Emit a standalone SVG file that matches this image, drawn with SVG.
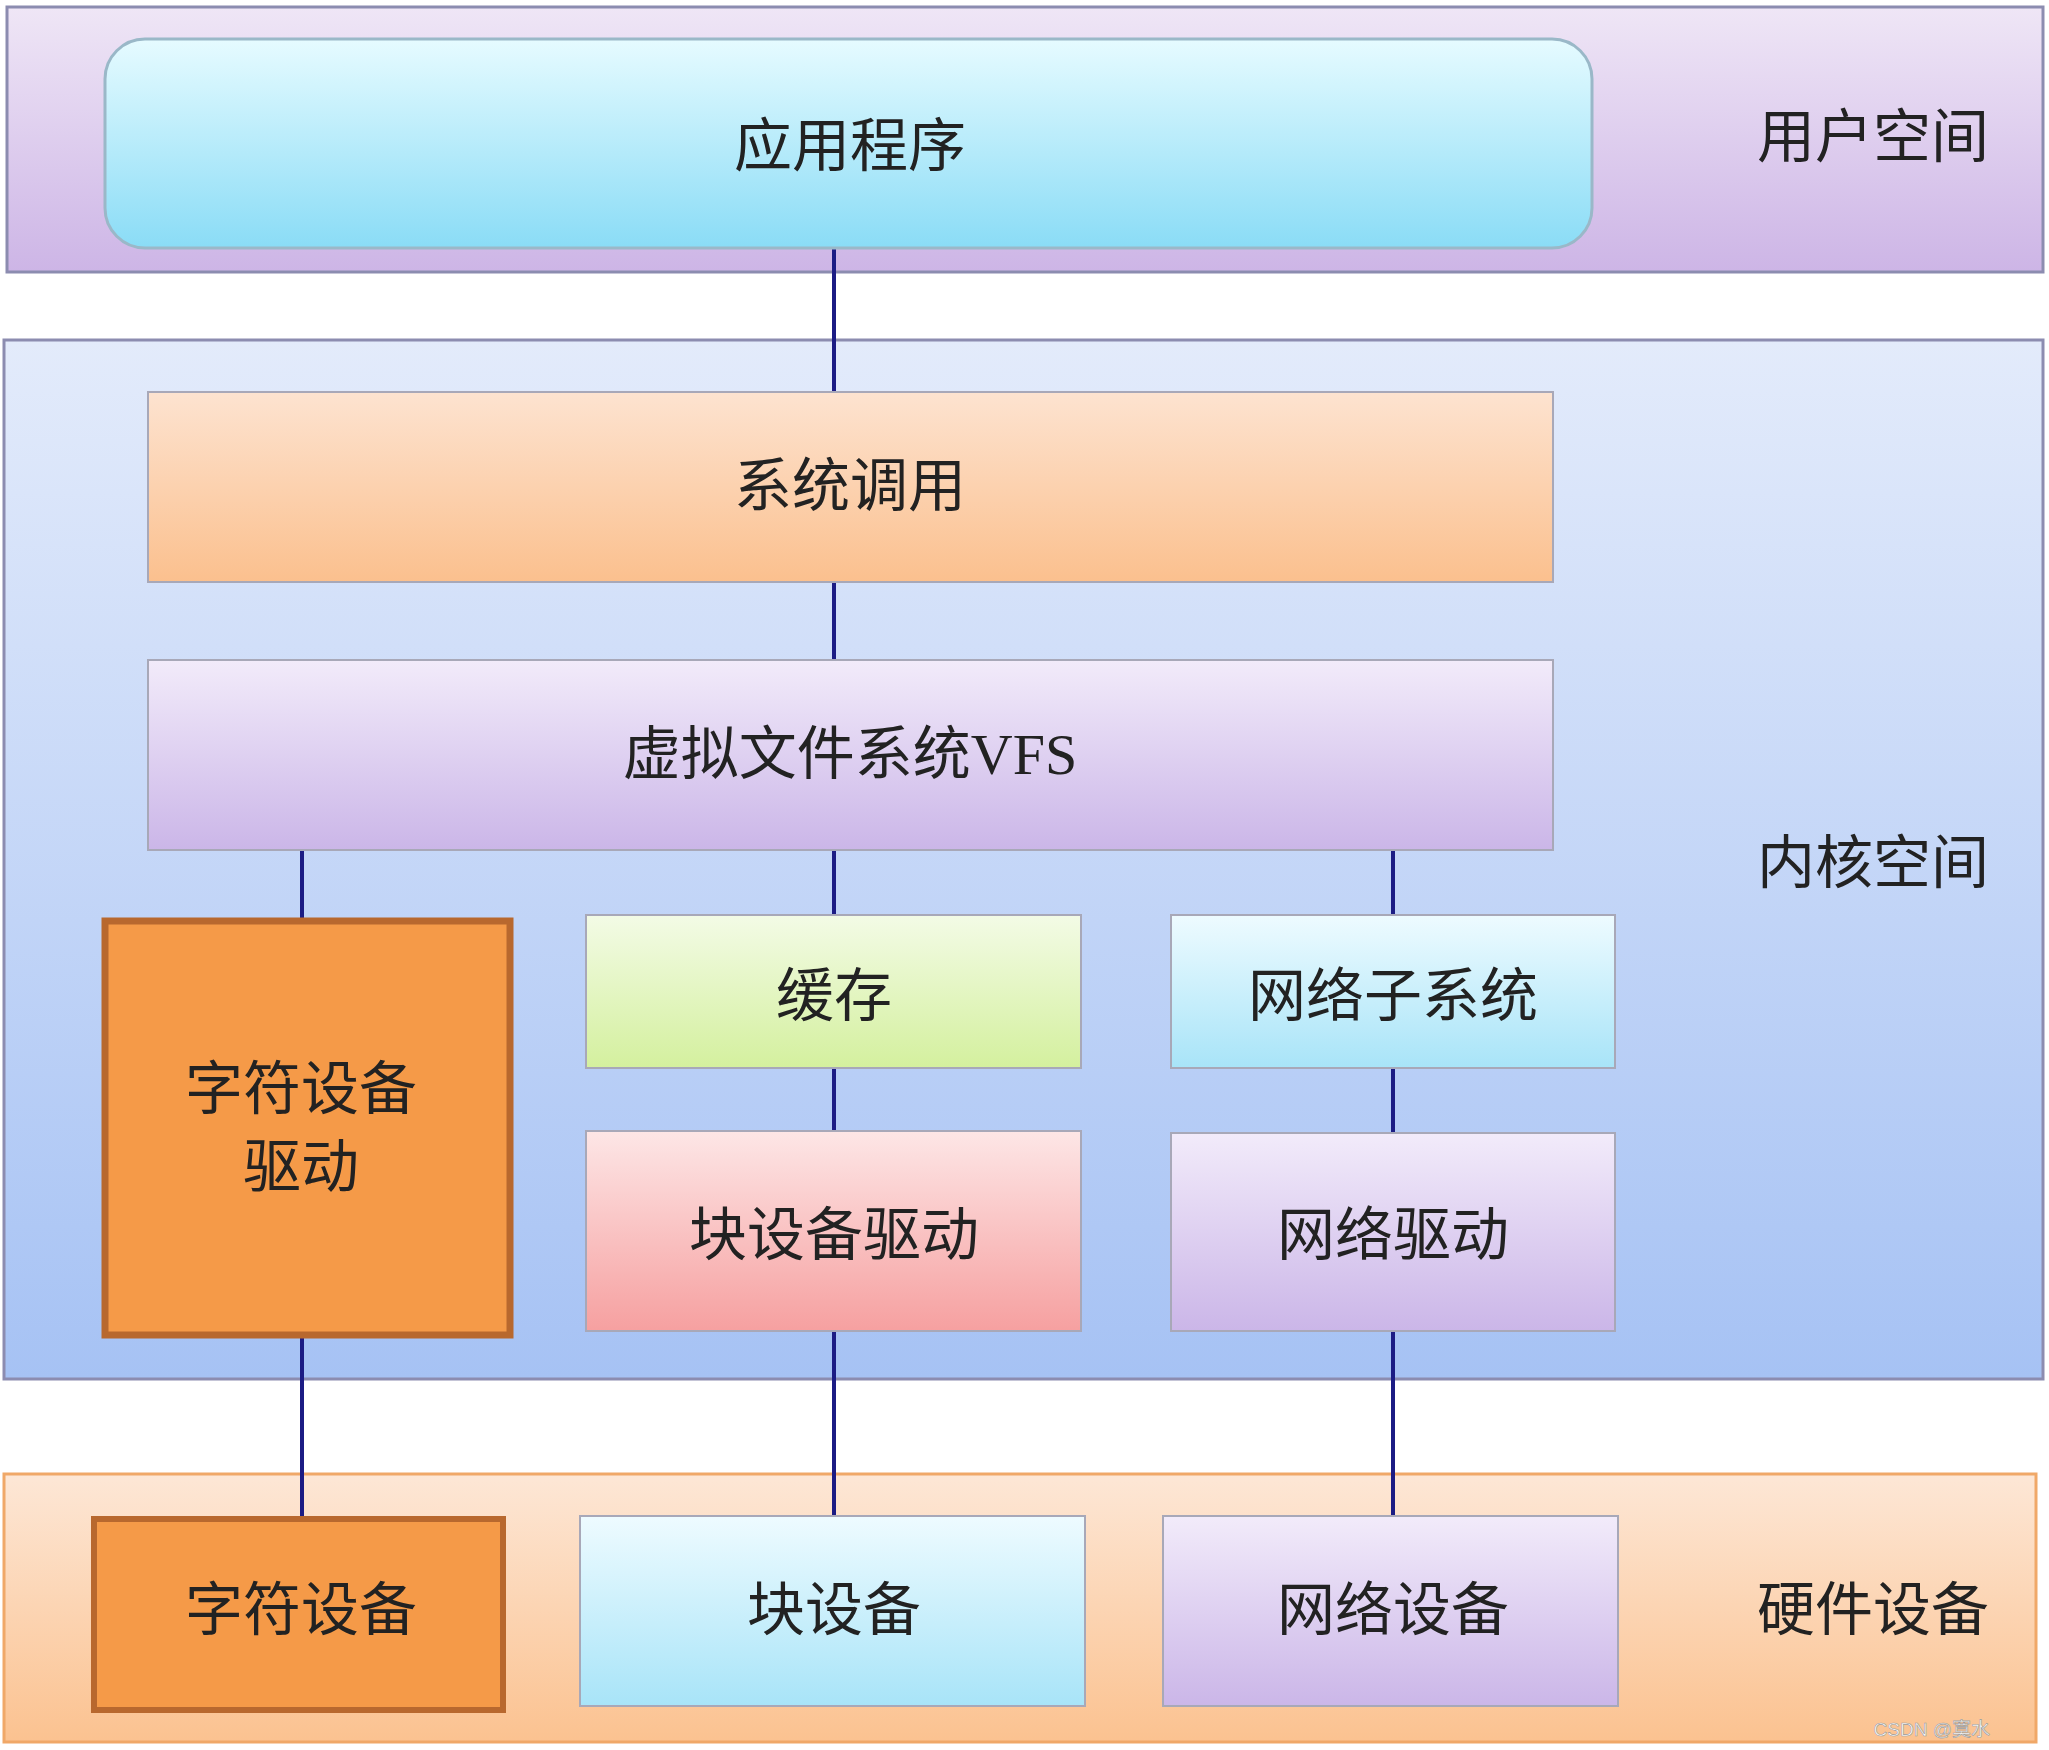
<svg xmlns="http://www.w3.org/2000/svg" width="2049" height="1750" viewBox="0 0 2049 1750">
<defs>
<linearGradient id="gUser" x1="0" y1="0" x2="0" y2="1"><stop offset="0" stop-color="#efe6f6"/><stop offset="1" stop-color="#cdb5e6"/></linearGradient>
<linearGradient id="gApp" x1="0" y1="0" x2="0" y2="1"><stop offset="0" stop-color="#e6fbff"/><stop offset="1" stop-color="#8adcf6"/></linearGradient>
<linearGradient id="gKernel" x1="0" y1="0" x2="0" y2="1"><stop offset="0" stop-color="#e3ebfb"/><stop offset="1" stop-color="#a6c2f4"/></linearGradient>
<linearGradient id="gSys" x1="0" y1="0" x2="0" y2="1"><stop offset="0" stop-color="#fde3d0"/><stop offset="1" stop-color="#fbc08e"/></linearGradient>
<linearGradient id="gPurple" x1="0" y1="0" x2="0" y2="1"><stop offset="0" stop-color="#f2ebfa"/><stop offset="1" stop-color="#cbb6e8"/></linearGradient>
<linearGradient id="gGreen" x1="0" y1="0" x2="0" y2="1"><stop offset="0" stop-color="#f3fbe6"/><stop offset="1" stop-color="#d4f09e"/></linearGradient>
<linearGradient id="gCyan" x1="0" y1="0" x2="0" y2="1"><stop offset="0" stop-color="#eefbff"/><stop offset="1" stop-color="#a8e4f8"/></linearGradient>
<linearGradient id="gRed" x1="0" y1="0" x2="0" y2="1"><stop offset="0" stop-color="#fde6e6"/><stop offset="1" stop-color="#f6a0a0"/></linearGradient>
<linearGradient id="gHw" x1="0" y1="0" x2="0" y2="1"><stop offset="0" stop-color="#fde7d6"/><stop offset="1" stop-color="#fbc290"/></linearGradient>
</defs>
<style>
text{font-family:"Liberation Serif","Noto Sans CJK SC",serif;font-size:58px;fill:#222;text-anchor:middle;dominant-baseline:central}
.band{stroke:#8c8cb0;stroke-width:3}
.box{stroke:#a8a8b8;stroke-width:2}
.conn line{stroke:#1c1c84;stroke-width:4}
</style>
<g id="user-space"><rect class="band" x="7" y="7" width="2036" height="265" fill="url(#gUser)"/><text x="1873" y="137">用户空间</text></g>
<g id="kernel-space"><rect class="band" x="4" y="340" width="2039" height="1039" fill="url(#gKernel)"/><text x="1873" y="863">内核空间</text></g>
<g id="hw-space"><rect x="4" y="1474" width="2032" height="268" fill="url(#gHw)" stroke="#f0a868" stroke-width="3"/><text x="1873" y="1610">硬件设备</text></g>
<g class="conn" id="connectors">
<line x1="834" y1="242" x2="834" y2="392"/>
<line x1="834" y1="582" x2="834" y2="660"/>
<line x1="834" y1="850" x2="834" y2="915"/>
<line x1="834" y1="1068" x2="834" y2="1131"/>
<line x1="834" y1="1331" x2="834" y2="1516"/>
<line x1="302" y1="850" x2="302" y2="921"/>
<line x1="302" y1="1335" x2="302" y2="1519"/>
<line x1="1393" y1="850" x2="1393" y2="915"/>
<line x1="1393" y1="1068" x2="1393" y2="1133"/>
<line x1="1393" y1="1331" x2="1393" y2="1516"/>
</g>
<g id="app"><rect x="105" y="39" width="1487" height="209" rx="40" fill="url(#gApp)" stroke="#9ab8c8" stroke-width="3"/><text x="850" y="146">应用程序</text></g>
<g id="syscall"><rect class="box" x="148" y="392" width="1405" height="190" fill="url(#gSys)"/><text x="850" y="486">系统调用</text></g>
<g id="vfs"><rect class="box" x="148" y="660" width="1405" height="190" fill="url(#gPurple)"/><text x="850" y="754">虚拟文件系统VFS</text></g>
<g id="chardrv"><rect x="105" y="921" width="405" height="414" fill="#f59a48" stroke="#b8682e" stroke-width="7"/><text x="301" y="1089">字符设备</text><text x="301" y="1167">驱动</text></g>
<g id="cache"><rect class="box" x="586" y="915" width="495" height="153" fill="url(#gGreen)"/><text x="834" y="996">缓存</text></g>
<g id="netsub"><rect class="box" x="1171" y="915" width="444" height="153" fill="url(#gCyan)"/><text x="1393" y="996">网络子系统</text></g>
<g id="blkdrv"><rect class="box" x="586" y="1131" width="495" height="200" fill="url(#gRed)"/><text x="834" y="1235">块设备驱动</text></g>
<g id="netdrv"><rect class="box" x="1171" y="1133" width="444" height="198" fill="url(#gPurple)"/><text x="1393" y="1235">网络驱动</text></g>
<g id="chardev"><rect x="94" y="1519" width="409" height="191" fill="#f59a48" stroke="#b8682e" stroke-width="6"/><text x="301" y="1610">字符设备</text></g>
<g id="blkdev"><rect class="box" x="580" y="1516" width="505" height="190" fill="url(#gCyan)"/><text x="834" y="1610">块设备</text></g>
<g id="netdev"><rect class="box" x="1163" y="1516" width="455" height="190" fill="url(#gPurple)"/><text x="1393" y="1610">网络设备</text></g>
<text x="1990" y="1729" style="font-family:'Liberation Sans','Noto Sans CJK SC',sans-serif;font-size:19px;fill:#fff;stroke:#999;stroke-width:0.6;text-anchor:end">CSDN @寞水</text>
</svg>
